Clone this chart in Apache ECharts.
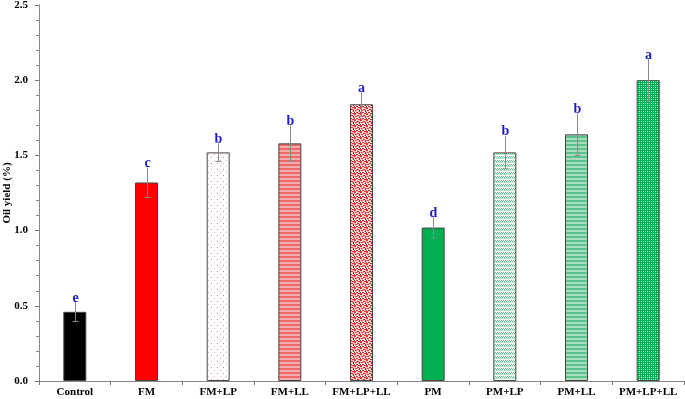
<!DOCTYPE html>
<html>
<head>
<meta charset="utf-8">
<script src="https://cdn.jsdelivr.net/npm/echarts@6/dist/echarts.min.js"></script>
<style>html,body{margin:0;padding:0;background:#fff}#c{width:685px;height:399px}</style>
</head>
<body>
<div id="c"></div>
<script>
var categories = ['Control','FM','FM+LP','FM+LL','FM+LP+LL','PM','PM+LP','PM+LL','PM+LP+LL'];
var values = [0.46, 1.32, 1.52, 1.58, 1.84, 1.02, 1.52, 1.64, 2.00];
var errors = [0.065, 0.10, 0.06, 0.12, 0.08, 0.07, 0.11, 0.14, 0.14];
var letters = ['e','c','b','b','a','d','b','b','a'];
var yTicks = [0.0, 0.5, 1.0, 1.5, 2.0, 2.5];

function tile(w, h, draw) {
  var c = document.createElement('canvas');
  c.width = w; c.height = h;
  var g = c.getContext('2d');
  draw(g);
  return {image: c, repeat: 'repeat'};
}
function px(g, col, x, y, w, h) { g.fillStyle = col; g.fillRect(x, y, w || 1, h || 1); }

var fills = [
  '#000000',
  '#ff0000',
  tile(6, 6, function (g) { px(g,'#fff',0,0,6,6); px(g,'#f28a8a',1,1); px(g,'#f5b0b0',4,4); }),
  tile(1, 4, function (g) { px(g,'#ee6a6a',0,0,1,2); px(g,'#f6aaaa',0,2,1,2); }),
  tile(6, 6, function (g) {
    px(g,'#f7c8c8',0,0,6,6);
    px(g,'#e02a2a',0,0,2,1); px(g,'#e02a2a',3,1,2,1); px(g,'#c81818',5,2,1,2);
    px(g,'#e84040',1,2,2,1); px(g,'#fff',4,4); px(g,'#d42020',2,4,2,1); px(g,'#555',0,4);
    px(g,'#fff',3,3); px(g,'#e84040',0,5,2,1); px(g,'#e02a2a',4,5,2,1); px(g,'#fff',2,0); px(g,'#fff',1,4);
  }),
  '#00b050',
  tile(6, 4, function (g) {
    px(g,'#fff',0,0,6,4);
    px(g,'#5cc48a',0,1); px(g,'#5cc48a',1,0); px(g,'#5cc48a',2,1); px(g,'#5cc48a',3,0); px(g,'#5cc48a',4,1); px(g,'#5cc48a',5,0);
    px(g,'#b8e6cb',0,2,6,1);
  }),
  tile(1, 4, function (g) { px(g,'#5cc48a',0,0,1,2); px(g,'#a8ddbf',0,2,1,2); }),
  tile(4, 4, function (g) {
    px(g,'#00b050',0,0,4,4);
    px(g,'#ffffff',1,1); px(g,'#ffffff',3,3); px(g,'#8fd9b0',1,3); px(g,'#8fd9b0',3,1);
  })
];

var barData = values.map(function (v, i) {
  return {value: v, itemStyle: {color: fills[i]}};
});
var errData = values.map(function (v, i) { return [i, v - errors[i], v + errors[i], letters[i]]; });

var font = '"Liberation Serif", "Times New Roman", serif';
var chart = echarts.init(document.getElementById('c'), null, {renderer: 'canvas'});
chart.setOption({
  animation: false,
  grid: {left: 39, right: 1, top: 5, bottom: 18, containLabel: false, outerBoundsMode: 'none'},
  xAxis: {
    type: 'category', data: categories,
    axisLine: {lineStyle: {color: '#888', width: 1}},
    axisTick: {show: true, alignWithLabel: false, length: 4, lineStyle: {color: '#777'}},
    axisLabel: {color: '#000', fontFamily: font, fontWeight: 'bold', fontSize: 11, margin: 6, interval: 0}
  },
  yAxis: {
    type: 'value', min: 0, max: 2.5, interval: 0.5,
    name: 'Oil yield (%)', nameLocation: 'middle', nameGap: 26, nameMoveOverlap: false,
    nameTextStyle: {color: '#000', fontFamily: font, fontWeight: 'bold', fontSize: 11},
    axisLine: {show: true, lineStyle: {color: '#888', width: 1}},
    axisTick: {show: true, length: 4, lineStyle: {color: '#777'}},
    minorTick: {show: true, splitNumber: 5, length: 3, lineStyle: {color: '#888'}},
    splitLine: {show: false},
    axisLabel: {color: '#000', fontFamily: font, fontWeight: 'bold', fontSize: 11, margin: 11,
      formatter: function (v) { return yTicks.indexOf(v) >= 0 ? v.toFixed(1) : ''; }}
  },
  series: [
    {
      type: 'bar', data: barData, barWidth: 23,
      itemStyle: {borderColor: '#444', borderWidth: 1}
    },
    {
      type: 'custom', data: errData, z: 10,
      renderItem: function (params, api) {
        var x = api.value(0);
        var lo = api.coord([x, api.value(1)]);
        var hi = api.coord([x, api.value(2)]);
        var cx = Math.round(lo[0]) + 0.5;
        return {
          type: 'group',
          children: [
            {type: 'line', shape: {x1: cx, y1: lo[1], x2: cx, y2: hi[1]}, style: {stroke: '#8a8a8a', lineWidth: 1}},
            {type: 'line', shape: {x1: cx - 3, y1: lo[1], x2: cx + 3, y2: lo[1]}, style: {stroke: '#8a8a8a', lineWidth: 1}},
            {type: 'text', x: cx, y: hi[1] + 3, style: {text: api.value(3), fill: '#1c1cc8',
              font: 'bold 14px ' + font, align: 'center', verticalAlign: 'bottom'}}
          ]
        };
      }
    }
  ]
});
</script>
</body>
</html>
